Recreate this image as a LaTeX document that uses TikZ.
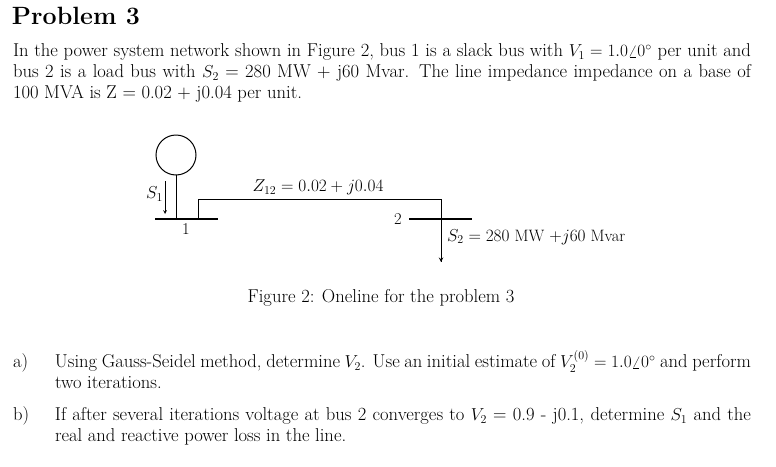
\documentclass[tikz,border=0pt]{standalone}
\usepackage{amsmath}
\tikzset{every node/.style={inner sep=0pt,outer sep=0pt},
 body/.style={font=\fontsize{18.6}{21}\selectfont,anchor=north west,align=justify},
 item/.style={font=\fontsize{18.6}{21}\selectfont,anchor=north west},
 lbl/.style={font=\fontsize{16.5}{19}\selectfont},
 ln/.style={line width=1pt},
 bus/.style={line width=1.3pt}}
\newcommand{\myitem}[2]{\parbox[t]{738pt}{\noindent\hangindent=42pt\hangafter=1 \makebox[42pt][l]{#1}#2\par}}
\begin{document}
\begin{tikzpicture}[x=1pt,y=-1pt,>=stealth]
\useasboundingbox (0,0) rectangle (776,466);
\node[anchor=base west,font=\fontsize{25}{30}\selectfont\bfseries] (title) at (12,24) {Problem 3};
\node[body,text width=738pt] (p1) at (13,44) {In the power system network shown in Figure 2, bus 1 is a slack bus with $V_1=1.0\angle0^\circ$ per unit and bus 2 is a load bus with $S_2$ = 280 MW + j60 Mvar. The line impedance impedance on a base of 100 MVA is Z = 0.02 + j0.04 per unit.};
% diagram
\node[draw,ln,circle,minimum size=40pt] (g) at (176,155) {};
\coordinate (b1l) at (155,219); \coordinate (b1r) at (218,219);
\coordinate (b2l) at (409,219); \coordinate (b2r) at (472,219);
\coordinate (g1) at (176,219);
\draw[bus] (b1l) -- (b1r);
\draw[bus] (b2l) -- (b2r);
\draw[ln] (g.south) -- (g1);
\coordinate (l1) at (198,219); \coordinate (l2) at (441,199); \coordinate (ld) at (441,262);
\draw[ln] (l1) |- (l2) -- (ld);
\draw[->,ln] (441,240) -- (ld);
\coordinate (s1a) at (165,181); \coordinate (s1b) at (165,214);
\draw[->,line width=0.7pt] (s1a) -- (s1b);
\node[lbl,anchor=east] (s1) at (163,194) {$S_1$};
\node[lbl] (n1) at (186,229) {1};
\node[lbl] (n2) at (398,219) {2};
\node[font=\fontsize{18}{20}\selectfont,anchor=south] (z) at (318,195) {$Z_{12}=0.02+j0.04$};
\node[lbl,anchor=west] (s2) at (447,237) {$S_2=280$ MW $+j60$ Mvar};
\node[font=\fontsize{18.6}{21}\selectfont] (cap) at (381,298) {Figure 2: Oneline for the problem 3};
% questions
\node[item] (a) at (13,350) {\myitem{a)}{Using Gauss-Seidel method, determine $V_2$. Use an initial estimate of $V_2^{(0)}=1.0\angle0^\circ$ and perform two iterations.}};
\node[item] (b) at (13,407) {\myitem{b)}{If after several iterations voltage at bus 2 converges to $V_2$ = 0.9 - j0.1, determine $S_1$ and the real and reactive power loss in the line.}};
\end{tikzpicture}
\end{document}
